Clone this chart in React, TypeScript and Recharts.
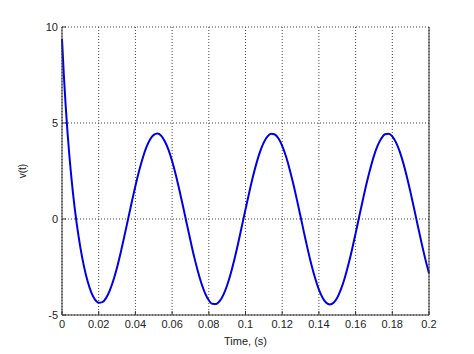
import { CartesianGrid, Label, Line, LineChart, XAxis, YAxis } from "recharts";

// time samples (s) and voltage readings
const timeValues = [
  0, 0.001, 0.002, 0.003, 0.004, 0.006, 0.008, 0.01, 0.012, 0.014, 0.016, 0.018,
  0.02, 0.022, 0.024, 0.026, 0.028, 0.03, 0.032, 0.034, 0.036, 0.038, 0.04,
  0.042, 0.044, 0.046, 0.048, 0.05, 0.052, 0.054, 0.056, 0.058, 0.06, 0.062,
  0.064, 0.066, 0.068, 0.07, 0.072, 0.074, 0.076, 0.078, 0.08, 0.082, 0.084,
  0.086, 0.088, 0.09, 0.092, 0.094, 0.096, 0.098, 0.1, 0.102, 0.104, 0.106,
  0.108, 0.11, 0.112, 0.114, 0.116, 0.118, 0.12, 0.122, 0.124, 0.126, 0.128,
  0.13, 0.132, 0.134, 0.136, 0.138, 0.14, 0.142, 0.144, 0.146, 0.148, 0.15,
  0.152, 0.154, 0.156, 0.158, 0.16, 0.162, 0.164, 0.166, 0.168, 0.17, 0.172,
  0.174, 0.176, 0.178, 0.18, 0.182, 0.184, 0.186, 0.188, 0.19, 0.192, 0.194,
  0.196, 0.198, 0.2,
];

const voltageValues = [
  9.38, 7.5, 5.9, 4.52, 3.32, 1.34, -0.23, -1.48, -2.48, -3.26, -3.83, -4.2,
  -4.36, -4.33, -4.12, -3.73, -3.19, -2.52, -1.74, -0.89, -0.01, 0.87, 1.72,
  2.5, 3.18, 3.74, 4.14, 4.38, 4.45, 4.34, 4.05, 3.61, 3.02, 2.31,
  1.5, 0.64, -0.25, -1.12, -1.96, -2.71, -3.36, -3.87, -4.23, -4.42, -4.43,
  -4.27, -3.94, -3.45, -2.82, -2.08, -1.26, -0.38, 0.5, 1.37, 2.19, 2.91,
  3.52, 3.99, 4.3, 4.44, 4.4, 4.19, 3.81, 3.28, 2.61, 1.85, 1.01,
  0.13, -0.76, -1.62, -2.41, -3.1, -3.68, -4.1, -4.36, -4.45, -4.36, -4.1,
  -3.67, -3.1, -2.4, -1.61, -0.75, 0.14, 1.02, 1.86, 2.62, 3.29, 3.82,
  4.19, 4.41, 4.44, 4.3, 3.99, 3.52, 2.91, 2.18, 1.36, 0.49, -0.4,
  -1.27, -2.09, -2.83,
];

const xTicks = [0, 0.02, 0.04, 0.06, 0.08, 0.1, 0.12, 0.14, 0.16, 0.18, 0.2];
const yTicks = [-5, 0, 5, 10];

const data = timeValues.map((t, i) => ({ t, v: voltageValues[i] }));

const tickStyle = { fontSize: 11, fill: "#222", fontFamily: "Liberation Sans, Arial, sans-serif" };

export default function App() {
  return (
    <div style={{ position: "absolute", left: 0, top: 0, background: "#fff" }}>
      <LineChart width={474} height={354} data={data} margin={{ top: 27, right: 0, bottom: 0, left: 0 }}>
        <CartesianGrid xAxisId="b" yAxisId="l" stroke="#444" strokeDasharray="1 2" strokeWidth={1} />
        <XAxis
          xAxisId="b"
          dataKey="t"
          type="number"
          domain={[0, 0.2]}
          ticks={xTicks}
          tickFormatter={(v) => String(v)}
          height={39}
          tickSize={-4}
          tickMargin={9}
          stroke="#333"
          tick={tickStyle}
          interval={0}
        >
          <Label value="Time, (s)" position="insideBottom" offset={9} style={{ fontSize: 11, fill: "#222", fontFamily: "Liberation Sans, Arial, sans-serif" }} />
        </XAxis>
        <XAxis
          xAxisId="t"
          dataKey="t"
          type="number"
          orientation="top"
          domain={[0, 0.2]}
          ticks={xTicks}
          height={0}
          tickSize={-4}
          tick={false}
          stroke="#333"
        />
        <YAxis
          yAxisId="l"
          type="number"
          domain={[-5, 10]}
          ticks={yTicks}
          width={62}
          tickSize={-4}
          tickMargin={8}
          stroke="#333"
          tick={tickStyle}
          interval={0}
        >
          <Label value="v(t)" angle={-90} position="insideLeft" offset={22} style={{ fontSize: 10, fill: "#222", fontFamily: "Liberation Sans, Arial, sans-serif", textAnchor: "middle" }} />
        </YAxis>
        <YAxis
          yAxisId="r"
          type="number"
          orientation="right"
          domain={[-5, 10]}
          ticks={yTicks}
          width={45}
          tickSize={-4}
          tick={false}
          stroke="#333"
        />
        <Line
          xAxisId="b"
          yAxisId="l"
          type="monotone"
          dataKey="v"
          stroke="#0000e6"
          strokeWidth={2}
          dot={false}
          isAnimationActive={false}
        />
      </LineChart>
    </div>
  );
}
